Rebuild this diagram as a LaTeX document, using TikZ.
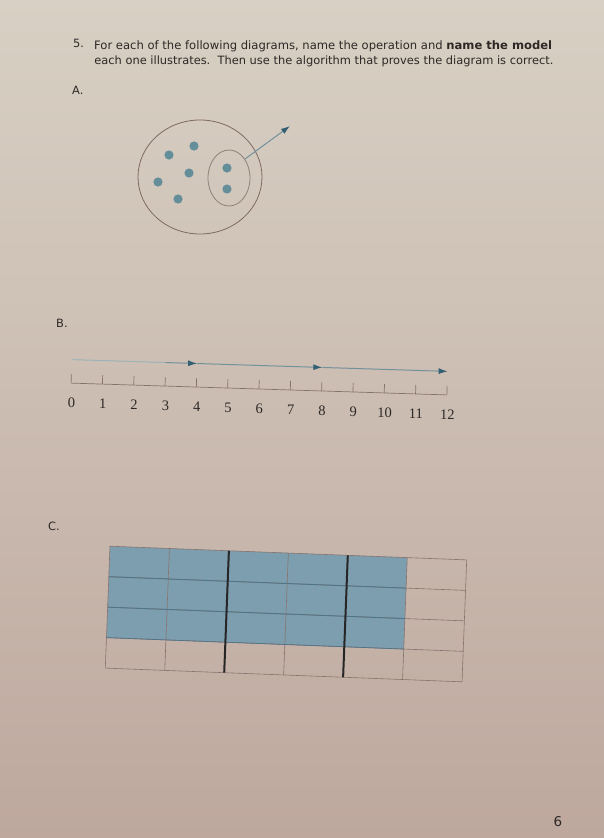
\documentclass[tikz,border=0pt]{standalone}
\usepackage{fontspec}
\setmainfont{DejaVu Sans}
\newfontfamily\numfont{Liberation Serif}
\usetikzlibrary{arrows.meta,shapes.geometric}
\definecolor{paperT}{RGB}{216,208,196}
\definecolor{paperM}{RGB}{207,195,183}
\definecolor{paperB}{RGB}{190,168,158}
\definecolor{ink}{RGB}{45,40,38}
\definecolor{dotc}{RGB}{100,142,154}
\definecolor{ringc}{RGB}{125,105,98}
\definecolor{arrc}{RGB}{50,95,115}
\definecolor{linec}{RGB}{115,145,155}
\definecolor{shadec}{RGB}{124,158,174}
\definecolor{rowc}{RGB}{80,116,136}
\definecolor{gridc}{RGB}{135,115,110}
\tikzset{
  txt/.style={text=ink, inner sep=0pt},
  lbl/.style={txt, font=\fontsize{11.4}{13}\selectfont},
  dotA/.style={fill=dotc, draw=none},
  jump/.style={draw=linec, line width=1pt, -{Latex[length=9pt,width=6pt,color=arrc]}},
  tickm/.style={draw=gridc, line width=0.7pt},
  numl/.style={txt, font=\numfont\fontsize{14.5}{16}\selectfont},
  thin grid/.style={draw=gridc, line width=0.6pt},
  row line/.style={draw=rowc, line width=0.9pt},
  thick line/.style={draw=black!85, line width=2pt}
}
\begin{document}
\begin{tikzpicture}[x=1pt,y=-1pt]
\shade[top color=paperT, middle color=paperM, bottom color=paperB] (0,0) rectangle (604,838);
\useasboundingbox (0,0) rectangle (604,838);

% header
\begin{scope}[rotate around={0.6:(94,49)}]
  \node[lbl, anchor=base west] (num5) at (73,47.5) {5.};
  \node[txt, anchor=base west] (line1) at (94,49) {\resizebox{458pt}{!}{\fontsize{11.4}{13}\selectfont For each of the following diagrams, name the operation and \textbf{name the model}}};
  \node[txt, anchor=base west] (line2) at (94,65) {\resizebox{459pt}{!}{\fontsize{11.4}{13}\selectfont each one illustrates.\ \ Then use the algorithm that proves the diagram is correct.}};
\end{scope}
\node[lbl, anchor=base west] (labA) at (72,94) {A.};
\node[lbl, anchor=base west] (labB) at (56,327) {B.};
\node[lbl, anchor=base west] (labC) at (48,530) {C.};
\node[txt, font=\fontsize{13.5}{15}\selectfont] (page) at (558,822) {6};

% A: set model
\node[ellipse, draw=ringc, line width=0.8pt, minimum width=124pt, minimum height=114pt, inner sep=0pt] (whole) at (200,177) {};
\node[ellipse, draw=ringc!85, line width=0.8pt, minimum width=42pt, minimum height=56pt, inner sep=0pt] (grp) at (229,178) {};
\foreach \x/\y [count=\i] in {194/146, 169/155, 189/173, 158/182, 178/199, 227/168, 227/189}
  \fill[dotA] (\x,\y) circle[radius=4.6];
\coordinate (tipA) at (290,126);
\draw[jump] (grp.50) -- (tipA);

% B: number line
\begin{scope}[rotate around={-1.8:(259,389)}]
  \draw[tickm] (71,389) -- (447,389);
  \foreach \i in {0,...,12} {
    \coordinate (t\i) at ({71+31.333*\i},389);
    \draw[tickm] (t\i) -- ++(0,-9);
    \node[numl] (n\i) at ({71+31.333*\i+1},409) {\i};
    \coordinate (p\i) at ({71+31.333*\i},365.5);
  }
  \draw[draw=linec!70, line width=1pt] (71.5,365.5) -- (p3);
  \draw[jump] (p3) -- (p4);
  \draw[jump] (p4) -- (p8);
  \draw[jump] (p8) -- (p12);
\end{scope}

% C: area model grid
\begin{scope}[rotate around={-2.2:(286,614)}]
  \fill[shadec] (107.5,553) rectangle (405,644.5);
  \foreach \c in {0,...,6}
    \draw[thin grid] ({107.5+59.5*\c},553) -- ({107.5+59.5*\c},675);
  \foreach \r in {0,...,4}
    \draw[thin grid] (107.5,{553+30.5*\r}) -- (464.5,{553+30.5*\r});
  \foreach \r in {1,2}
    \draw[row line] (107.5,{553+30.5*\r}) -- (405,{553+30.5*\r});
  \draw[row line, line width=0.7pt] (107.5,644.5) -- (405,644.5);
  \draw[thick line] (226.5,553) -- (226.5,675);
  \draw[thick line] (345.5,553) -- (345.5,675);
\end{scope}
\end{tikzpicture}
\end{document}
